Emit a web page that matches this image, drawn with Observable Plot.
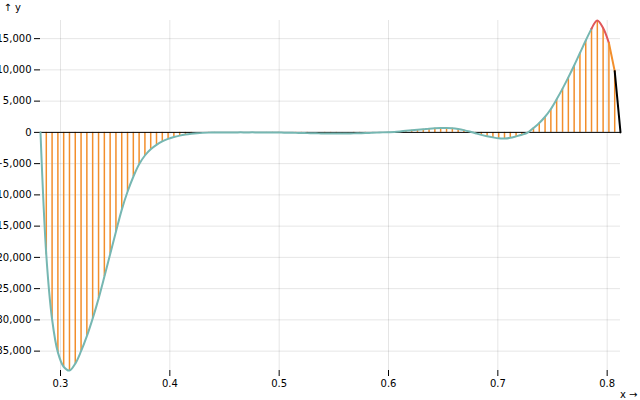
<!DOCTYPE html>
<html>
<head>
<meta charset="utf-8">
<script src="https://cdn.jsdelivr.net/npm/d3@7"></script>
<script src="https://cdn.jsdelivr.net/npm/@observablehq/plot@0.6"></script>
<style>
  html, body { margin: 0; padding: 0; background: #fff; }
</style>
</head>
<body>
<div id="chart"></div>
<script>
const xs = [
  0.2817, 0.2870, 0.2923, 0.2976, 0.3029, 0.3082, 0.3135, 0.3188, 0.3241, 0.3294,
  0.3348, 0.3401, 0.3454, 0.3507, 0.3560, 0.3613, 0.3666, 0.3719, 0.3772, 0.3825,
  0.3878, 0.3931, 0.3984, 0.4037, 0.4090, 0.4143, 0.4196, 0.4249, 0.4302, 0.4355,
  0.4409, 0.4462, 0.4515, 0.4568, 0.4621, 0.4674, 0.4727, 0.4780, 0.4833, 0.4886,
  0.4939, 0.4992, 0.5045, 0.5098, 0.5151, 0.5204, 0.5257, 0.5310, 0.5363, 0.5416,
  0.5470, 0.5523, 0.5576, 0.5629, 0.5682, 0.5735, 0.5788, 0.5841, 0.5894, 0.5947,
  0.6000, 0.6053, 0.6106, 0.6159, 0.6212, 0.6265, 0.6318, 0.6371, 0.6424, 0.6477,
  0.6531, 0.6584, 0.6637, 0.6690, 0.6743, 0.6796, 0.6849, 0.6902, 0.6955, 0.7008,
  0.7061, 0.7114, 0.7167, 0.7220, 0.7273, 0.7326, 0.7379, 0.7432, 0.7485, 0.7538,
  0.7592, 0.7645, 0.7698, 0.7751, 0.7804, 0.7857, 0.7910, 0.7963, 0.8016, 0.8069,
  0.8122
];
const ys = [
  0, -19600, -29900, -35200, -37500, -38100, -37000, -35000, -32600, -29800,
  -26600, -23100, -19500, -15900, -12400, -9500, -7100, -5100, -3700, -2700,
  -2000, -1450, -1050, -750, -520, -350, -230, -140, -80, -40,
  -15, -5, -2, -1, 0, 0, 0, 0, -5, -10,
  -20, -30, -45, -60, -80, -100, -120, -140, -160, -175,
  -185, -190, -185, -175, -160, -140, -110, -80, -40, 0,
  30, 70, 150, 250, 340, 420, 500, 590, 660, 700,
  700, 660, 540, 360, 130, -140, -400, -620, -800, -950,
  -980, -870, -640, -380, -30, 700, 1500, 2500, 3750, 5300,
  7000, 8800, 10700, 12700, 14700, 16600, 17900, 16700, 14300, 9800,
  0
];
// line segments: [start index, end index, colour]
const segments = [
  [0, 95, "#76b7b2"],
  [95, 98, "#e15759"],
  [98, 99, "#f28e2b"],
  [99, 100, "#000000"]
];

const data = xs.map((x, i) => ({x, y: ys[i], i}));

const lineMarks = segments.map(([a, b, c]) =>
  Plot.line(data.filter(d => d.i >= a && d.i <= b), {
    x: "x", y: "y", stroke: c, strokeWidth: 2,
    curve: b - a > 2 ? "catmull-rom" : "linear"
  })
);

const chart = Plot.plot({
  width: 640,
  height: 400,
  grid: true,
  style: {fontFamily: "DejaVu Sans", fontSize: "10px"},
  x: {label: "x →"},
  y: {label: "↑ y"},
  marks: [
    Plot.ruleX(data, {x: "x", y1: 0, y2: "y", stroke: "#f28e2b", strokeWidth: 1.5}),
    Plot.ruleY([0]),
    ...lineMarks
  ]
});
document.getElementById("chart").appendChild(chart);
</script>
</body>
</html>
